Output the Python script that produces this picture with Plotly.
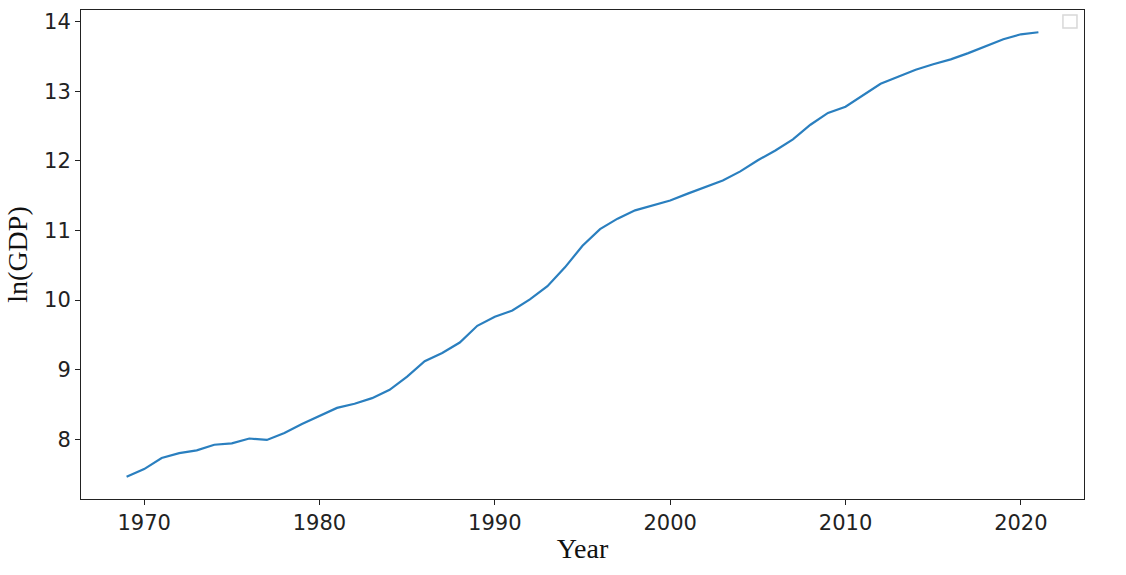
import plotly.graph_objects as go

years = list(range(1969, 2022))
ln_gdp = [7.46, 7.57, 7.73, 7.80, 7.84, 7.92, 7.94, 8.01, 7.99, 8.09,
          8.22, 8.34, 8.45, 8.51, 8.59, 8.71, 8.90, 9.12, 9.24, 9.39,
          9.63, 9.76, 9.85, 10.01, 10.20, 10.47, 10.78, 11.02, 11.17, 11.29,
          11.36, 11.43, 11.53, 11.62, 11.72, 11.85, 12.01, 12.15, 12.31, 12.52,
          12.69, 12.78, 12.95, 13.11, 13.21, 13.31, 13.39, 13.46, 13.55, 13.65,
          13.75, 13.82, 13.85]
x_ticks = [1970, 1980, 1990, 2000, 2010, 2020]
y_ticks = [8, 9, 10, 11, 12, 13, 14]

fig = go.Figure()
fig.add_trace(go.Scatter(x=years, y=ln_gdp, mode="lines",
                         line=dict(color="#2a7fbf", width=2.2), showlegend=False))

pad_x = (max(years) - min(years)) * 0.05
pad_y = (max(ln_gdp) - min(ln_gdp)) * 0.05

axis_common = dict(showgrid=False, zeroline=False, showline=True, linecolor="#222",
                   linewidth=1, mirror=True, ticks="outside", ticklen=5, tickwidth=1,
                   tickcolor="#222", automargin=False,
                   tickfont=dict(family="DejaVu Sans", size=21, color="#222"))

fig.update_xaxes(range=[min(years) - pad_x, max(years) + pad_x], tickvals=x_ticks,
                 title=dict(text="Year", font=dict(family="Liberation Serif", size=28, color="#111"),
                            standoff=4),
                 **axis_common)
fig.update_yaxes(range=[min(ln_gdp) - pad_y, max(ln_gdp) + pad_y], tickvals=y_ticks,
                 title=dict(text="ln(GDP)", font=dict(family="Liberation Serif", size=28, color="#111"),
                            standoff=8),
                 **axis_common)

# empty legend box (matplotlib draws an empty legend frame)
fig.add_shape(type="rect", xref="paper", yref="paper",
              x0=0.979, x1=0.993, y0=0.963, y1=0.99,
              line=dict(color="#d8d8d8", width=1.5), fillcolor="white")

fig.update_layout(width=1126, height=575, plot_bgcolor="white", paper_bgcolor="white",
                  margin=dict(l=81, r=42, t=10, b=76))

fig.write_html("out.html", config={"displayModeBar": False},
               post_script="document.body.style.margin='0px';")
